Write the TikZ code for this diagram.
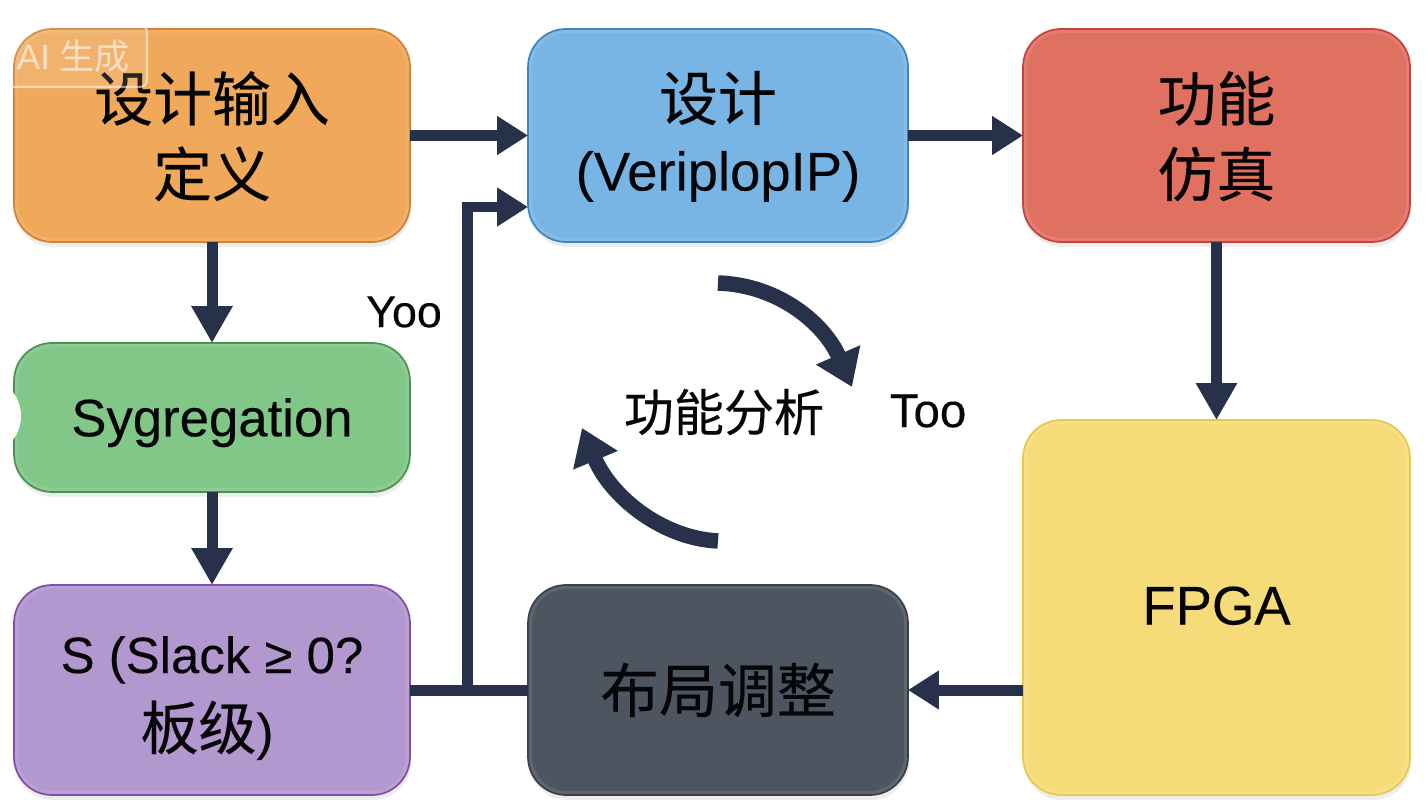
\documentclass[tikz,border=0pt]{standalone}
\usepackage{fontspec}
\setmainfont{Liberation Sans}[FakeBold=0.25]
\newfontfamily\cjk{Noto Sans CJK SC}[FakeBold=0.35]
\newfontfamily\cjklight{Noto Sans CJK SC}
\newfontfamily\latinlight{Liberation Sans}
\newcommand{\toprule}{\rule{0pt}{1.02cm}}
\usetikzlibrary{arrows.meta, shadows}
\definecolor{flowline}{RGB}{39, 50, 74}
\definecolor{inkblack}{RGB}{6, 6, 8}
\definecolor{orangefill}{RGB}{240, 168, 90}
\definecolor{orangeedge}{RGB}{214, 128, 48}
\definecolor{bluefill}{RGB}{120, 181, 229}
\definecolor{blueedge}{RGB}{62, 133, 192}
\definecolor{redfill}{RGB}{224, 112, 96}
\definecolor{rededge}{RGB}{200, 64, 64}
\definecolor{greenfill}{RGB}{128, 199, 136}
\definecolor{greenedge}{RGB}{79, 144, 80}
\definecolor{purplefill}{RGB}{178, 152, 206}
\definecolor{purpleedge}{RGB}{128, 80, 168}
\definecolor{slatefill}{RGB}{76, 85, 96}
\definecolor{slateedge}{RGB}{58, 64, 72}
\definecolor{yellowfill}{RGB}{246, 220, 120}
\definecolor{yellowedge}{RGB}{232, 200, 80}
\tikzset{
  box/.style 2 args={
    draw=#2, fill=#1, line width=1pt, rounded corners=0.76cm, inner sep=0,
    outer sep=0, align=center, text=inkblack,
    font=\fontsize{31}{43}\selectfont,
    drop shadow={opacity=0.14, shadow xshift=0.02cm, shadow yshift=-0.1cm},
    path picture={
      \draw[white, opacity=0.1, line width=0.16cm, rounded corners=0.76cm]
        (path picture bounding box.north west)
        rectangle (path picture bounding box.south east);
    }
  },
  zhbox/.style={font=\cjk\fontsize{33.5}{43}\selectfont},
  flow/.style={
    draw=flowline, line width=0.22cm,
    -{Triangle[length=0.74cm, width=0.78cm]}
  },
  flowside/.style={
    draw=flowline, line width=0.22cm,
    -{Triangle[length=0.62cm, width=0.74cm]}
  },
  turn/.style={
    draw=flowline, line width=0.31cm,
    -{Triangle[length=0.7cm, width=0.92cm]}
  },
  bar/.style={draw=flowline, line width=0.22cm},
  caption/.style={text=inkblack, inner sep=0}
}

\begin{document}
\begin{tikzpicture}[x=0.02cm, y=-0.02cm]
  \useasboundingbox (0, 0) rectangle (1428, 811);

  % Left column
  \node[box={orangefill}{orangeedge}, zhbox, minimum width=7.92cm, minimum height=4.26cm]
    (input) at (212, 135.5) {\toprule 设计输入\\定义};
  \node[box={greenfill}{greenedge}, minimum width=7.92cm, minimum height=2.98cm,
        font=\fontsize{30}{43}\selectfont]
    (segr) at (212, 417.5) {\rule{0pt}{0.97cm}Sygregation};
  \node[box={purplefill}{purpleedge}, minimum width=7.92cm, minimum height=4.2cm,
        font=\fontsize{29}{42.5}\selectfont]
    (slack) at (212, 690) {\rule{0pt}{1.06cm}S (Slack ≥ 0?\\[1pt]{\cjk\fontsize{33}{42.5}\selectfont 板级})\kern0.2cm};

  % Middle column
  \node[box={bluefill}{blueedge}, minimum width=7.6cm, minimum height=4.26cm]
    (design) at (718, 135.5) {{\cjk\fontsize{33.5}{43}\selectfont\toprule 设计}\\[-3pt](VeriplopIP)};
  \node[box={slatefill}{slateedge}, zhbox, minimum width=7.6cm, minimum height=4.2cm]
    (layout) at (718, 690) {布局调整};

  % Right column
  \node[box={redfill}{rededge}, zhbox, minimum width=7.74cm, minimum height=4.26cm]
    (sim) at (1216.5, 135.5) {\toprule 功能\\仿真};
  \node[box={yellowfill}{yellowedge}, minimum width=7.74cm, minimum height=7.5cm]
    (fpga) at (1216.5, 607.5) {\raisebox{0.08cm}{FPGA}};

  % Free ends of the connectors
  \coordinate (forktop) at (467, 207);
  \coordinate (fork) at (forktop |- slack.east);
  \coordinate (feedback) at (design.west |- forktop);
  \coordinate (fpgaout) at (fpga.west |- layout.east);
  \coordinate (turnastart) at (718, 283);
  \coordinate (turnaend) at (852, 387);
  \coordinate (turnbstart) at (718, 541);
  \coordinate (turnbend) at (582, 428);

  % Straight connectors
  \foreach \from/\to in {input.south/segr.north, segr.south/slack.north,
      sim.south/fpga.north} {
    \draw[flow] (\from) -- (\to);
  }
  \foreach \from/\to in {input.east/design.west, design.east/sim.west,
      fpgaout/layout.east} {
    \draw[flowside] (\from) -- (\to);
  }
  \draw[bar] (slack.east) -- (layout.west);
  \draw[flowside] (fork) |- (feedback);

  % Turning arrows round the analysis label
  \draw[turn] (turnastart) .. controls (780, 285) and (825, 325) .. (turnaend);
  \draw[turn] (turnbstart) .. controls (660, 538) and (610, 495) .. (turnbend);

  \node[caption, font=\fontsize{25.5}{26}\selectfont] (yes) at (404, 312) {Yoo};
  \node[caption, font=\fontsize{27}{27}\selectfont] (too) at (928, 411) {Too};
  \node[caption, font=\cjk\fontsize{28.5}{29}\selectfont] (analysis) at (724, 412) {功能分析};

  % Stamp in the corner and the bite in the green box
  \node[draw=white, draw opacity=0.55, fill=white, fill opacity=0.12, text opacity=0.6,
        text=white, line width=1.2pt, rounded corners=0.14cm, inner sep=0, outer sep=0,
        minimum width=2.94cm, minimum height=1.24cm,
        font=\latinlight\fontsize{20}{20}\selectfont]
    (stamp) at (73.5, 56) {AI {\cjklight 生成}};
  \fill[white] (-18, 416) circle (0.78cm);
\end{tikzpicture}
\end{document}
